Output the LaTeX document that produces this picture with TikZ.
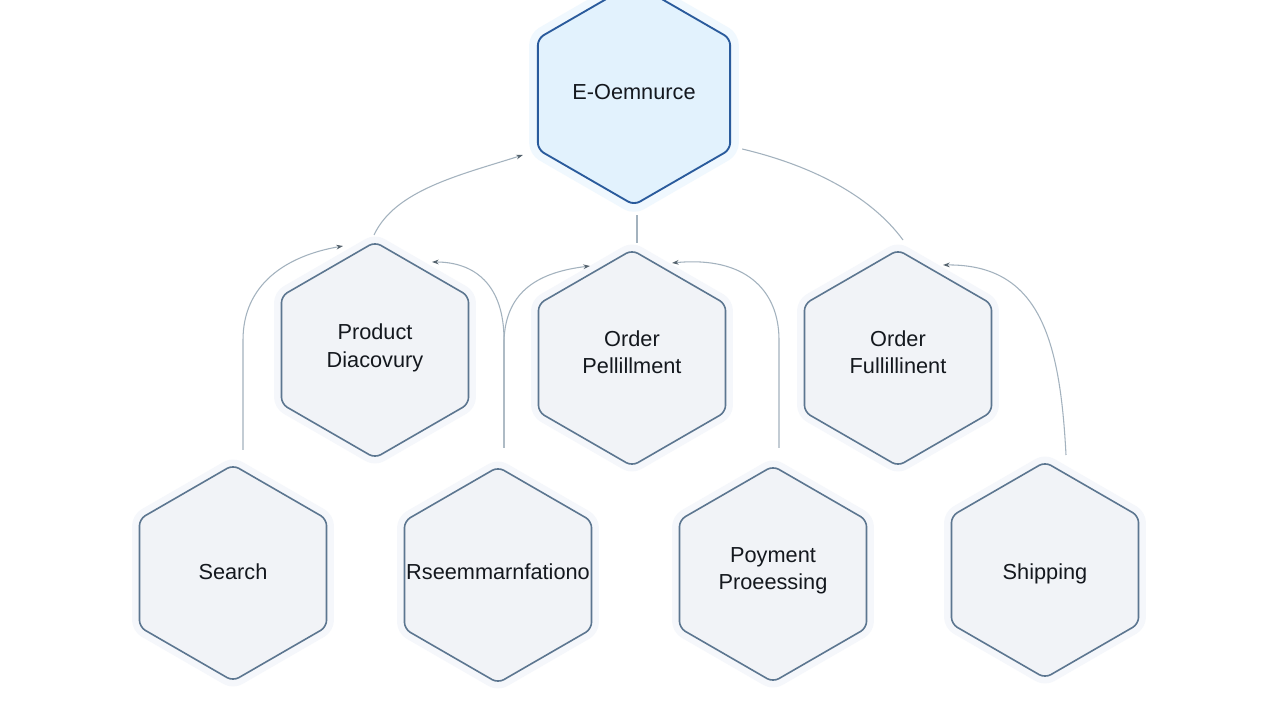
\documentclass[tikz,border=0pt]{standalone}
\usepackage{fontspec}
\setmainfont{Liberation Sans}
\usetikzlibrary{shapes.geometric,calc,arrows.meta}
\definecolor{midfill}{HTML}{F1F3F7}
\definecolor{midline}{HTML}{5C7690}
\definecolor{midglow}{HTML}{F5F7FB}
\definecolor{topfill}{HTML}{E2F2FD}
\definecolor{topline}{HTML}{2A5B9C}
\definecolor{topglow}{HTML}{F0F8FE}
\definecolor{connline}{HTML}{A3B2BE}
\definecolor{arrowink}{HTML}{55636E}
\definecolor{labelink}{HTML}{14181E}
\newcommand{\hexlabel}[2]{\makebox[0pt]{\raisebox{#1}[0pt][0pt]{\begin{tabular}{@{}c@{}}#2\end{tabular}}}}
\tikzset{
  hexbase/.style={shape=regular polygon,regular polygon sides=6,shape border rotate=30,
    inner sep=0pt,outer sep=0pt,rounded corners=5pt,text=labelink,
    font=\fontsize{16.3}{20.6}\selectfont},
  midhex/.style={hexbase,minimum size=162pt,fill=midfill,draw=midline,line width=1.2pt,
    preaction={draw=midglow,line width=11pt}},
  tophex/.style={hexbase,minimum size=166.5pt,fill=topfill,draw=topline,line width=1.4pt,
    preaction={draw=topglow,line width=13pt}},
  conn/.style={draw=connline,line width=0.8pt},
  connarrow/.style={conn,-{Stealth[length=5pt,width=3.5pt,color=arrowink]}},
}
\begin{document}
\begin{tikzpicture}[x=0.75pt,y=-0.75pt]
\useasboundingbox[fill=white] (0,0) rectangle (1280,720);
\node[tophex] (top) at (634,94) {\hexlabel{-4.5pt}{E-Oemnurce}};
\node[midhex] (prod) at (375,350) {\hexlabel{-2.8pt}{Product\\Diacovury}};
\node[midhex] (ord1) at (632,358) {\hexlabel{-1.5pt}{Order\\Pellillment}};
\node[midhex] (ord2) at (898,358) {\hexlabel{-1.5pt}{Order\\Fullillinent}};
\node[midhex] (search) at (233,573) {\hexlabel{-5pt}{Search}};
\node[midhex] (rec) at (498,575) {\hexlabel{-3.5pt}{Rseemmarnfationo}};
\node[midhex] (pay) at (773,574) {\hexlabel{-1.5pt}{Poyment\\Proeessing}};
\node[midhex] (ship) at (1045,570) {\hexlabel{-7pt}{Shipping}};
\path[connarrow] ($(prod.north)+(-1,-7)$) .. controls (395,190) and (460,175) .. ($(top.west)+(-15,61)$);
\path[conn] ($(top.south)+(3,10)$) -- ($(ord1.north)+(5,-7)$);
\path[conn] ($(top.east)+(12,55)$) .. controls (810,165) and (870,195) .. ($(ord2.north)+(5,-10)$);
\path[connarrow] ($(search.north)+(10,-15)$) -- (243,340) .. controls (243,285) and (285,256) .. ($(prod.north)+(-32,4)$);
\path[connarrow] ($(rec.north)+(6,-19)$) -- (504,340) .. controls (504,285) and (475,262) .. ($(prod.north)+(57,20)$);
\path[connarrow] ($(rec.north)+(6,-19)$) -- (504,340) .. controls (506,290) and (540,272) .. ($(ord1.north)+(-42,16)$);
\path[connarrow] ($(pay.north)+(6,-18)$) -- (779,340) .. controls (779,290) and (745,256) .. ($(ord1.north)+(40,13)$);
\path[connarrow] ($(ship.north)+(21,-7)$) .. controls (1060,340) and (1040,264) .. ($(ord2.north)+(45,15)$);
\end{tikzpicture}
\end{document}
